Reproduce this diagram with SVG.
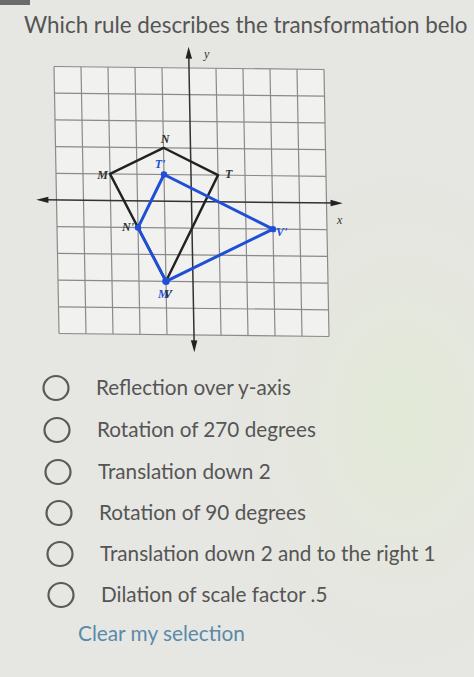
<svg xmlns="http://www.w3.org/2000/svg" width="474" height="677" viewBox="0 0 474 677">
<defs>
<radialGradient id="glow" cx="0.85" cy="0.62" r="0.45">
<stop offset="0" stop-color="#e2ead6"/>
<stop offset="1" stop-color="#e6e6e2" stop-opacity="0"/>
</radialGradient>
<style>
.t{font-family:Lato,"Open Sans",sans-serif;fill:#555;}
.opt{font-size:20.7px;}
.g{stroke:#8a8a8a;stroke-width:1.2;fill:none;}
.ax{stroke:#333;stroke-width:1.5;fill:none;}
.lb{font-family:"Liberation Serif",serif;font-style:italic;font-size:12px;font-weight:bold;}
.radio{fill:none;stroke:#5a5a5a;stroke-width:2.2;}
</style>
</defs>
<rect width="474" height="677" fill="#e6e6e2"/>
<rect width="474" height="677" fill="url(#glow)"/>
<rect x="0" y="0" width="30" height="5" fill="#6a6a6a"/>
<text class="t" x="24" y="33" font-size="22.4">Which rule describes the transformation belo</text>

<g id="graph">
<path d="M54,66.5 L324,69.5 L329,336.5 L59,333.5 Z" fill="#f1f1ef"/>
<g transform="matrix(27,0.3,0.5,26.7,191.5,201.5)">
<g class="g">
<path vector-effect="non-scaling-stroke" d="M-5,-5V5M-4,-5V5M-3,-5V5M-2,-5V5M-1,-5V5M1,-5V5M2,-5V5M3,-5V5M4,-5V5M5,-5V5"/>
<path vector-effect="non-scaling-stroke" d="M-5,-5H5M-5,-4H5M-5,-3H5M-5,-2H5M-5,-1H5M-5,1H5M-5,2H5M-5,3H5M-5,4H5M-5,5H5"/>
</g>
<g id="axes">
<path class="ax" vector-effect="non-scaling-stroke" d="M-5.5,0H5.35M0,-5.6V5.4"/>
<path d="M-5.75,0 L-5.3,-0.12 L-5.3,0.12Z M5.6,0 L5.15,-0.12 L5.15,0.12Z M0,-5.8 L-0.12,-5.35 L0.12,-5.35Z M0,5.65 L-0.12,5.2 L0.12,5.2Z" fill="#222"/>
</g>
<g id="MNTV">
<path d="M-3,-1 L-1,-2 L1,-1 L-1,3 Z" fill="none" stroke="#222" stroke-width="2.4" vector-effect="non-scaling-stroke" stroke-linejoin="round"/>
</g>
<g id="image">
<path d="M-1,-1 L3,1 L-1,3 L-2,1 Z" fill="none" stroke="#1e4fd6" stroke-width="3" vector-effect="non-scaling-stroke" stroke-linejoin="round"/>
<g fill="#1e4fd6">
<circle cx="-1" cy="-1" r="0.12"/><circle cx="3" cy="1" r="0.12"/><circle cx="-1" cy="3" r="0.14"/><circle cx="-2" cy="1" r="0.12"/>
</g>
</g>
</g>
<g class="lb">
<text x="204" y="58" fill="#333" font-weight="normal">y</text>
<text x="337" y="224" fill="#333" font-weight="normal">x</text>
<text x="165" y="143" fill="#333" text-anchor="middle">N</text>
<text x="108" y="179" fill="#333" text-anchor="end">M</text>
<text x="225" y="178" fill="#333">T</text>
<text x="160" y="168" fill="#1e4fd6" text-anchor="middle">T'</text>
<text x="134" y="231" fill="#333" text-anchor="end">N'</text>
<text x="276" y="236" fill="#1e4fd6">V'</text>
<text x="158" y="298"><tspan fill="#1e4fd6">M'</tspan><tspan dx="-8" fill="#333">V</tspan></text>
</g>
</g>

<g id="options">
<g id="opt1"><ellipse class="radio" cx="56" cy="388" rx="12.5" ry="12"/><text class="t opt" x="96" y="395">Reflection over y-axis</text></g>
<g id="opt2"><ellipse class="radio" cx="57" cy="430" rx="12.5" ry="12"/><text class="t opt" x="97" y="437">Rotation of 270 degrees</text></g>
<g id="opt3"><ellipse class="radio" cx="58" cy="472" rx="12.5" ry="12"/><text class="t opt" x="98" y="479">Translation down 2</text></g>
<g id="opt4"><ellipse class="radio" cx="59" cy="513" rx="12.5" ry="12"/><text class="t opt" x="99" y="520">Rotation of 90 degrees</text></g>
<g id="opt5"><ellipse class="radio" cx="60" cy="554" rx="12.5" ry="12"/><text class="t opt" x="100" y="561">Translation down 2 and to the right 1</text></g>
<g id="opt6"><ellipse class="radio" cx="61" cy="595" rx="12.5" ry="12"/><text class="t opt" x="101" y="602">Dilation of scale factor .5</text></g>
<text x="78" y="641" font-family="Lato,'Open Sans',sans-serif" font-size="20.8" fill="#5a8aa8">Clear my selection</text>
</g>
</svg>
